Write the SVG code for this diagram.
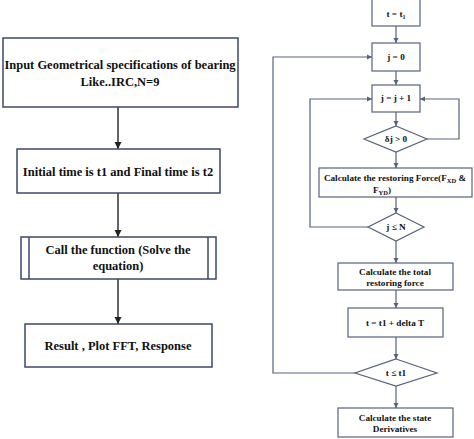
<svg xmlns="http://www.w3.org/2000/svg" width="474" height="439" viewBox="0 0 474 439">
<style>
.bx{fill:#fff;stroke:#3b4a6a;stroke-width:1.5}
.sbx{fill:#fff;stroke:#56627e;stroke-width:1.2}
.t{font-family:"Liberation Serif","Times New Roman",serif;font-weight:bold;fill:#111;text-anchor:middle}
.L{font-size:12.5px}
.S{font-size:9.2px}
.c{fill:none;stroke:#222;stroke-width:1.4}
.r{fill:none;stroke:#56627e;stroke-width:1.2}
</style>
<defs>
<marker id="a" markerWidth="8" markerHeight="8" refX="7" refY="4" orient="auto" markerUnits="userSpaceOnUse"><path d="M0,0.5 L7,4 L0,7.5 z" fill="#222"/></marker>
<marker id="b" markerWidth="6" markerHeight="6" refX="5" refY="3" orient="auto" markerUnits="userSpaceOnUse"><path d="M0,0.5 L5,3 L0,5.5 z" fill="#56627e"/></marker>
</defs>
<rect width="474" height="439" fill="#fff"/>
<g id="connectors">
<line class="c" x1="118" y1="107" x2="118" y2="149" marker-end="url(#a)"/>
<line class="c" x1="118" y1="193" x2="118" y2="237" marker-end="url(#a)"/>
<line class="c" x1="118" y1="279" x2="118" y2="324" marker-end="url(#a)"/>
<line class="r" x1="396" y1="26" x2="396" y2="43" marker-end="url(#b)"/>
<line class="r" x1="396" y1="71" x2="396" y2="85" marker-end="url(#b)"/>
<line class="r" x1="396" y1="112" x2="396" y2="126" marker-end="url(#b)"/>
<line class="r" x1="396" y1="152" x2="396" y2="168" marker-end="url(#b)"/>
<line class="r" x1="396" y1="197" x2="396" y2="213" marker-end="url(#b)"/>
<line class="r" x1="396" y1="241" x2="396" y2="263" marker-end="url(#b)"/>
<line class="r" x1="396" y1="290" x2="396" y2="308" marker-end="url(#b)"/>
<line class="r" x1="396" y1="337" x2="396" y2="359" marker-end="url(#b)"/>
<line class="r" x1="396" y1="386" x2="396" y2="408" marker-end="url(#b)"/>
<polyline class="r" points="355,373 273,373 273,57 372,57" marker-end="url(#b)"/>
<polyline class="r" points="368,227 310,227 310,99 372,99" marker-end="url(#b)"/>
<polyline class="r" points="427,139 459,139 459,99 420,99" marker-end="url(#b)"/>
</g>
<g id="n1"><rect class="bx" x="3" y="38" width="235" height="69"/><text class="t L" x="120" y="69">Input Geometrical specifications of bearing</text><text class="t L" x="120" y="86">Like..IRC,N=9</text></g>
<g id="n2"><rect class="bx" x="17" y="149" width="203" height="44"/><text class="t L" x="118" y="176">Initial time is t1 and Final time is t2</text></g>
<g id="n3"><rect class="bx" x="21" y="237" width="195" height="42"/><line class="bx" x1="29" y1="237" x2="29" y2="279"/><line class="bx" x1="208" y1="237" x2="208" y2="279"/><text class="t L" x="118" y="254">Call the function (Solve the</text><text class="t L" x="118" y="270">equation)</text></g>
<g id="n4"><rect class="bx" x="25" y="324" width="187" height="43"/><text class="t L" x="118" y="350">Result , Plot FFT, Response</text></g>
<g id="r1"><rect class="sbx" x="372" y="-1" width="48" height="27"/><text class="t S" x="396" y="17">t = t<tspan font-size="6" dy="2">1</tspan></text></g>
<g id="r2"><rect class="sbx" x="372" y="43" width="48" height="28"/><text class="t S" x="396" y="60">j = 0</text></g>
<g id="r3"><rect class="sbx" x="372" y="85" width="48" height="27"/><text class="t S" x="396" y="101">j = j + 1</text></g>
<g id="r4"><polygon class="sbx" points="396,126 427,139 396,152 364,139"/><text class="t S" x="396" y="142">δj &gt; 0</text></g>
<g id="r5"><rect class="sbx" x="319" y="168" width="153" height="29"/><text class="t S" x="395" y="181">Calculate the restoring Force(F<tspan font-size="6.5" dy="2">XD</tspan><tspan dy="-2"> &amp;</tspan></text><text class="t S" x="382" y="193">F<tspan font-size="6.5" dy="2">YD</tspan><tspan dy="-2">)</tspan></text></g>
<g id="r6"><polygon class="sbx" points="396,213 424,227 396,241 368,227"/><text class="t S" x="396" y="230">j ≤ N</text></g>
<g id="r7"><rect class="sbx" x="338" y="263" width="115" height="27"/><text class="t S" x="395" y="275">Calculate the total</text><text class="t S" x="395" y="286">restoring force</text></g>
<g id="r8"><rect class="sbx" x="348" y="308" width="95" height="29"/><text class="t S" x="395" y="326">t = t1 + delta T</text></g>
<g id="r9"><polygon class="sbx" points="396,359 437,373 396,386 355,373"/><text class="t S" x="396" y="376">t ≤ t1</text></g>
<g id="r10"><rect class="sbx" x="338" y="408" width="115" height="29"/><text class="t S" x="395" y="421">Calculate the state</text><text class="t S" x="395" y="432">Derivatives</text></g>
</svg>
